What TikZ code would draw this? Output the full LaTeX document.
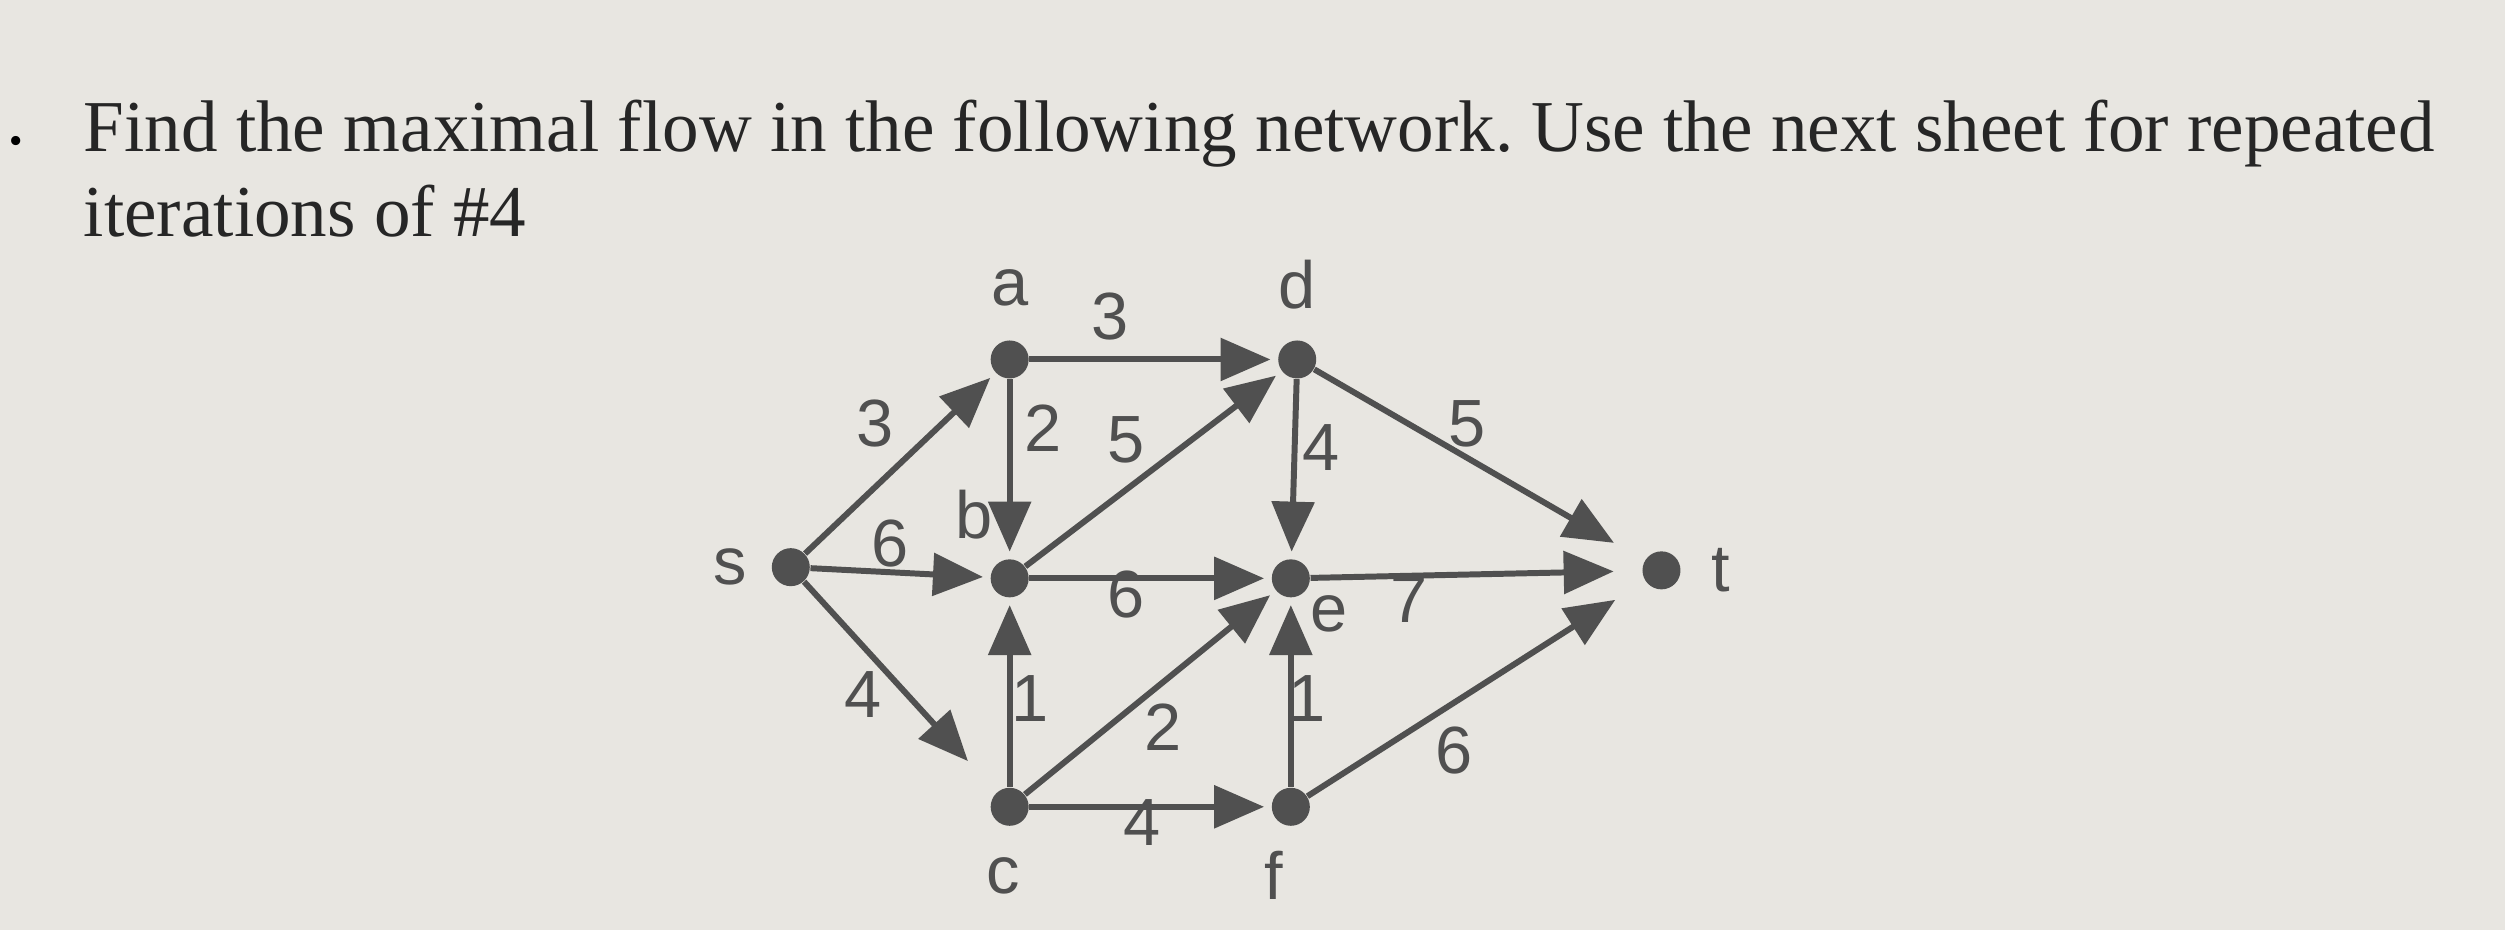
\documentclass[tikz,border=0pt]{standalone}
\usepackage{fontspec}
\setmainfont{Liberation Serif}
\newfontfamily\lbl{Liberation Sans}
\usetikzlibrary{arrows.meta}
\definecolor{ink}{HTML}{505050}
\definecolor{bg}{HTML}{E8E6E1}
\begin{document}
\begin{tikzpicture}[x=0.015976cm,y=-0.015976cm,
  vtx/.style={circle,fill=ink,inner sep=0pt,minimum size=0.38cm},
  arc/.style={draw=ink,line width=1.7pt,-{Triangle[length=0.5cm,width=0.42cm]},shorten >=2pt},
  lab/.style={font=\lbl\fontsize{19}{22}\selectfont,text=ink,inner sep=1pt},
  wt/.style={font=\lbl\fontsize{19}{22}\selectfont,text=ink,inner sep=1pt}]
\fill[bg] (0,0) rectangle (1568,582);
\useasboundingbox (0,0) rectangle (1568,582);
\node[anchor=base west,font=\fontsize{20.8}{25}\selectfont,inner sep=0pt,text=black!85] (q1) at (52,95) {Find the maximal flow in the following network.\ Use the next sheet for repeated};
\node[anchor=base west,font=\fontsize{20.8}{25}\selectfont,inner sep=0pt,text=black!85] (q2) at (52,148) {iterations of \#4};
\node[font=\fontsize{22}{26}\selectfont,inner sep=0pt] (dot) at (10,88) {.};
\node[vtx] (s) at (495,355) {};
\node[vtx] (a) at (632,225) {};
\node[vtx] (d) at (812,225) {};
\node[vtx] (b) at (632,362) {};
\node[vtx] (e) at (808,362) {};
\node[vtx] (t) at (1040,357) {};
\node[vtx] (c) at (632,505) {};
\node[vtx] (f) at (808,505) {};
\node[lab] (la) at (632,180) {a};
\node[lab] (ld) at (812,178) {d};
\node[lab] (ls) at (457,355) {s};
\node[lab] (lb) at (610,322) {b};
\node[lab] (le) at (832,384) {e};
\node[lab] (lt) at (1077,357) {t};
\node[lab] (lc) at (628,548) {c};
\node[lab] (lf) at (797,548) {f};
\draw[arc] (s) -- (a);
\draw[arc] (s) -- (b);
\draw[arc,shorten >=12pt] (s) -- (c);
\draw[arc] (a) -- (d);
\draw[arc] (a) -- (b);
\draw[arc] (b) -- (d);
\draw[arc] (d) -- (e);
\draw[arc,shorten >=10pt] (d) -- (t);
\draw[arc] (b) -- (e);
\draw[arc,shorten >=8pt] (e) -- (t);
\draw[arc] (c) -- (b);
\draw[arc] (c) -- (e);
\draw[arc] (f) -- (e);
\draw[arc] (c) -- (f);
\draw[arc,shorten >=10pt] (f) -- (t);
\node[wt] (w1) at (548,265) {3};
\node[wt] (w2) at (557,340) {6};
\node[wt] (w3) at (540,435) {4};
\node[wt] (w4) at (695,198) {3};
\node[wt] (w5) at (653,268) {2};
\node[wt] (w6) at (705,275) {5};
\node[wt] (w7) at (827,280) {4};
\node[wt] (w8) at (918,265) {5};
\node[wt] (w9) at (705,372) {6};
\node[wt] (w10) at (882,375) {7};
\node[wt] (w11) at (645,437) {1};
\node[wt] (w12) at (728,455) {2};
\node[wt] (w13) at (818,437) {1};
\node[wt] (w14) at (715,515) {4};
\node[wt] (w15) at (910,470) {6};
\end{tikzpicture}
\end{document}
